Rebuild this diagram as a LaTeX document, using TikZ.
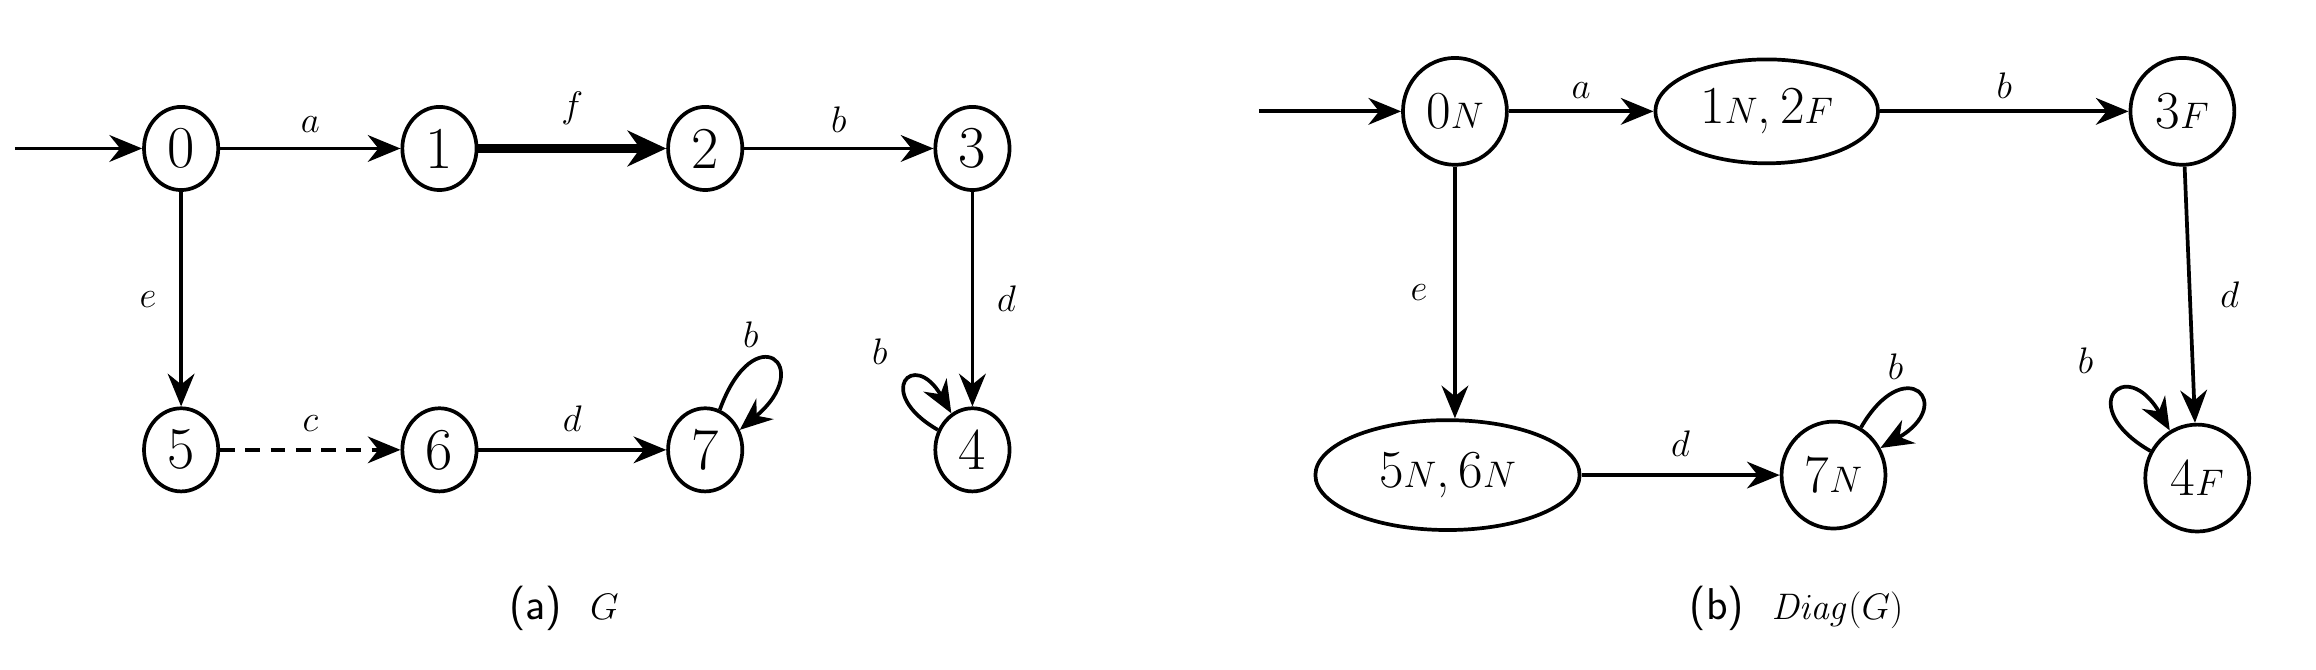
\documentclass[tikz,border=0pt]{standalone}
\usetikzlibrary{arrows.meta,shapes.geometric}
\begin{document}
\begin{tikzpicture}[x=1pt,y=-1pt,
  st/.style={draw,line width=2.5pt,ellipse,minimum width=50pt,minimum height=56pt,inner sep=0pt,font=\fontsize{40}{44}\selectfont},
  stb/.style={draw,line width=2.5pt,ellipse,minimum width=70pt,minimum height=72pt,inner sep=0pt,font=\fontsize{36}{40}\selectfont},
  ed/.style={line width=2.5pt,-{Stealth[length=22pt,width=18pt]}},
  lb/.style={font=\fontsize{40}{44}\selectfont\itshape}]
\useasboundingbox (0,0) rectangle (1560,451);
\node[st] (n0) at (122,100) {0};
\node[st] (n1) at (296,100) {1};
\node[st] (n2) at (475,100) {2};
\node[st] (n3) at (655,100) {3};
\node[st] (n5) at (122,303) {5};
\node[st] (n6) at (296,303) {6};
\node[st] (n7) at (475,303) {7};
\node[st] (n4) at (655,303) {4};
\coordinate (s0) at (10,100);
\draw[ed] (s0) -- (n0);
\draw[ed] (n0) -- node[lb,above=6pt]{$a$} (n1);
\draw[line width=6pt,-{Stealth[length=26pt,width=24pt]}] (n1) -- node[lb,above=10pt]{$f$} (n2);
\draw[ed] (n2) -- node[lb,above=6pt]{$b$} (n3);
\draw[ed] (n3) -- node[lb,right=12pt]{$d$} (n4);
\draw[ed] (n0) -- node[lb,left=12pt]{$e$} (n5);
\draw[ed,dash pattern=on 10pt off 7pt] (n5) -- node[lb,above=8pt]{$c$} (n6);
\draw[ed] (n6) -- node[lb,above=8pt]{$d$} (n7);
\draw[ed] (n7.70) to[out=70,in=40,looseness=9] node[lb,above left=4pt]{$b$} (n7.30);
\draw[ed] (n4.150) to[out=150,in=120,looseness=9] node[lb,above left=8pt]{$b$} (n4.120);
\node[font=\fontsize{30}{34}\sffamily] (ca) at (380,410) {(a)\ \ $G$};
% right
\node[stb] (m0) at (980,75) {0$N$};
\node[stb,minimum width=150pt,minimum height=70pt] (m1) at (1190,75) {1$N$,\,2$F$};
\node[stb] (m3) at (1470,75) {3$F$};
\node[stb] (m4) at (1480,322) {4$F$};
\node[stb,minimum width=178pt,minimum height=74pt] (m5) at (975,320) {5$N$,\,6$N$};
\node[stb] (m7) at (1235,320) {7$N$};
\coordinate (s1) at (848,75);
\draw[ed] (s1) -- (m0);
\draw[ed] (m0) -- node[lb,above=4pt]{$a$} (m1);
\draw[ed] (m1) -- node[lb,above=4pt]{$b$} (m3);
\draw[ed] (m3) -- node[lb,right=16pt]{$d$} (m4);
\draw[ed] (m0) -- node[lb,left=14pt]{$e$} (m0|-m5.north);
\draw[ed] (m5) -- node[lb,above=8pt]{$d$} (m7);
\draw[ed] (m7.60) to[out=60,in=30,looseness=8] node[lb,above left=4pt]{$b$} (m7.30);
\draw[ed] (m4.150) to[out=150,in=120,looseness=8] node[lb,above left=10pt]{$b$} (m4.120);
\node[font=\fontsize{30}{34}\sffamily] (cb) at (1210,410) {(b)\ \ $\mathit{Diag}(G)$};
\end{tikzpicture}
\end{document}
